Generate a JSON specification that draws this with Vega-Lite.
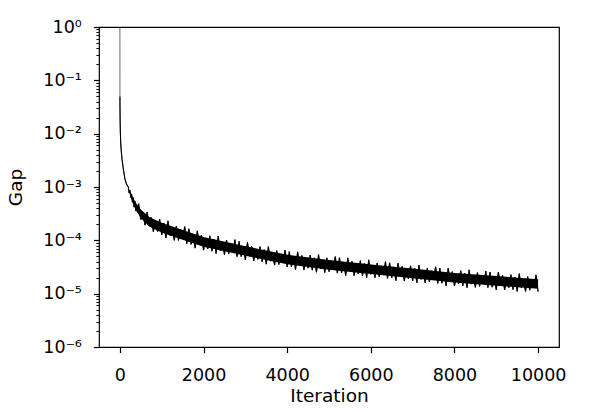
{
  "$schema": "https://vega.github.io/schema/vega-lite/v6.json",
  "width": 460,
  "height": 320,
  "autosize": {"type": "none"},
  "padding": {"left": 99, "top": 27, "right": 42, "bottom": 65},
  "background": "white",
  "config": {
    "view": {"stroke": "black", "strokeWidth": 1.2},
    "axis": {"labelFont": "DejaVu Sans", "titleFont": "DejaVu Sans", "labelColor": "black", "titleColor": "black", "tickColor": "black", "titleFontWeight": "normal", "grid": false, "domain": false}
  },
  "datasets": {
    "trace": [
      {"iter":0,"gap":1.0},{"iter":1,"gap":0.05},{"iter":2,"gap":0.03},{"iter":5,"gap":0.018},{"iter":10,"gap":0.011},{"iter":20,"gap":0.0065},{"iter":35,"gap":0.0045},{"iter":50,"gap":0.0033},{"iter":80,"gap":0.00224},{"iter":120,"gap":0.00141},{"iter":160,"gap":0.00112},{"iter":200,"gap":0.001},{"iter":220,"gap":7.76e-4},{"iter":240,"gap":8.71e-4},{"iter":260,"gap":6.31e-4},{"iter":280,"gap":7.41e-4},{"iter":300,"gap":5.13e-4},{"iter":320,"gap":6.31e-4},{"iter":340,"gap":4.17e-4},{"iter":360,"gap":5.37e-4},{"iter":380,"gap":3.55e-4},
      {"iter":450,"gap":4.75e-4},{"iter":500,"gap":2.44e-4},{"iter":550,"gap":3.28e-4},{"iter":600,"gap":1.92e-4},{"iter":650,"gap":3.39e-4},{"iter":700,"gap":1.91e-4},{"iter":750,"gap":2.69e-4},{"iter":800,"gap":1.45e-4},{"iter":850,"gap":2.17e-4},{"iter":900,"gap":1.46e-4},{"iter":950,"gap":2.50e-4},{"iter":1000,"gap":1.26e-4},
      {"iter":1050,"gap":2.11e-4},{"iter":1100,"gap":1.11e-4},{"iter":1150,"gap":2.32e-4},{"iter":1200,"gap":1.22e-4},{"iter":1250,"gap":1.68e-4},{"iter":1300,"gap":1.00e-4},{"iter":1350,"gap":1.86e-4},{"iter":1400,"gap":1.00e-4},{"iter":1450,"gap":1.59e-4},{"iter":1500,"gap":1.08e-4},{"iter":1550,"gap":1.81e-4},{"iter":1600,"gap":8.63e-5},{"iter":1650,"gap":1.65e-4},{"iter":1700,"gap":8.39e-5},{"iter":1750,"gap":1.28e-4},{"iter":1800,"gap":7.16e-5},{"iter":1850,"gap":1.51e-4},{"iter":1900,"gap":8.18e-5},{"iter":1950,"gap":1.25e-4},{"iter":2000,"gap":6.54e-5},
      {"iter":2050,"gap":1.01e-4},{"iter":2100,"gap":6.93e-5},{"iter":2150,"gap":1.22e-4},{"iter":2200,"gap":6.25e-5},{"iter":2250,"gap":1.06e-4},{"iter":2300,"gap":5.64e-5},{"iter":2350,"gap":1.20e-4},{"iter":2400,"gap":6.37e-5},{"iter":2450,"gap":8.92e-5},{"iter":2500,"gap":5.40e-5},{"iter":2550,"gap":1.01e-4},{"iter":2600,"gap":5.53e-5},{"iter":2650,"gap":8.79e-5},{"iter":2700,"gap":6.05e-5},{"iter":2750,"gap":1.03e-4},{"iter":2800,"gap":4.95e-5},{"iter":2850,"gap":9.58e-5},{"iter":2900,"gap":4.92e-5},{"iter":2950,"gap":7.58e-5},{"iter":3000,"gap":4.30e-5},
      {"iter":3050,"gap":9.16e-5},{"iter":3100,"gap":5.03e-5},{"iter":3150,"gap":7.76e-5},{"iter":3200,"gap":4.13e-5},{"iter":3250,"gap":6.35e-5},{"iter":3300,"gap":4.38e-5},{"iter":3350,"gap":7.67e-5},{"iter":3400,"gap":3.96e-5},{"iter":3450,"gap":6.72e-5},{"iter":3500,"gap":3.57e-5},{"iter":3550,"gap":7.61e-5},{"iter":3600,"gap":4.05e-5},{"iter":3650,"gap":5.67e-5},{"iter":3700,"gap":3.43e-5},{"iter":3750,"gap":6.40e-5},{"iter":3800,"gap":3.51e-5},{"iter":3850,"gap":5.60e-5},{"iter":3900,"gap":3.86e-5},{"iter":3950,"gap":6.55e-5},{"iter":4000,"gap":3.16e-5},
      {"iter":4050,"gap":6.15e-5},{"iter":4100,"gap":3.19e-5},{"iter":4150,"gap":4.95e-5},{"iter":4200,"gap":2.83e-5},{"iter":4250,"gap":6.07e-5},{"iter":4300,"gap":3.36e-5},{"iter":4350,"gap":5.21e-5},{"iter":4400,"gap":2.79e-5},{"iter":4450,"gap":4.34e-5},{"iter":4500,"gap":3.01e-5},{"iter":4550,"gap":5.30e-5},{"iter":4600,"gap":2.75e-5},{"iter":4650,"gap":4.72e-5},{"iter":4700,"gap":2.52e-5},{"iter":4750,"gap":5.41e-5},{"iter":4800,"gap":2.90e-5},{"iter":4850,"gap":4.09e-5},{"iter":4900,"gap":2.49e-5},{"iter":4950,"gap":4.69e-5},{"iter":5000,"gap":2.59e-5},
      {"iter":5050,"gap":4.16e-5},{"iter":5100,"gap":2.89e-5},{"iter":5150,"gap":4.97e-5},{"iter":5200,"gap":2.42e-5},{"iter":5250,"gap":4.73e-5},{"iter":5300,"gap":2.46e-5},{"iter":5350,"gap":3.82e-5},{"iter":5400,"gap":2.18e-5},{"iter":5450,"gap":4.70e-5},{"iter":5500,"gap":2.60e-5},{"iter":5550,"gap":4.06e-5},{"iter":5600,"gap":2.18e-5},{"iter":5650,"gap":3.39e-5},{"iter":5700,"gap":2.36e-5},{"iter":5750,"gap":4.16e-5},{"iter":5800,"gap":2.17e-5},{"iter":5850,"gap":3.71e-5},{"iter":5900,"gap":2.00e-5},{"iter":5950,"gap":4.29e-5},{"iter":6000,"gap":2.30e-5},
      {"iter":6050,"gap":3.25e-5},{"iter":6100,"gap":1.99e-5},{"iter":6150,"gap":3.75e-5},{"iter":6200,"gap":2.08e-5},{"iter":6250,"gap":3.34e-5},{"iter":6300,"gap":2.32e-5},{"iter":6350,"gap":3.98e-5},{"iter":6400,"gap":1.94e-5},{"iter":6450,"gap":3.79e-5},{"iter":6500,"gap":1.97e-5},{"iter":6550,"gap":3.06e-5},{"iter":6600,"gap":1.75e-5},{"iter":6650,"gap":3.76e-5},{"iter":6700,"gap":2.09e-5},{"iter":6750,"gap":3.25e-5},{"iter":6800,"gap":1.74e-5},{"iter":6850,"gap":2.71e-5},{"iter":6900,"gap":1.89e-5},{"iter":6950,"gap":3.34e-5},{"iter":7000,"gap":1.74e-5},
      {"iter":7050,"gap":2.98e-5},{"iter":7100,"gap":1.60e-5},{"iter":7150,"gap":3.44e-5},{"iter":7200,"gap":1.85e-5},{"iter":7250,"gap":2.61e-5},{"iter":7300,"gap":1.59e-5},{"iter":7350,"gap":3.01e-5},{"iter":7400,"gap":1.67e-5},{"iter":7450,"gap":2.68e-5},{"iter":7500,"gap":1.86e-5},{"iter":7550,"gap":3.19e-5},{"iter":7600,"gap":1.56e-5},{"iter":7650,"gap":3.03e-5},{"iter":7700,"gap":1.57e-5},{"iter":7750,"gap":2.45e-5},{"iter":7800,"gap":1.41e-5},{"iter":7850,"gap":3.02e-5},{"iter":7900,"gap":1.67e-5},{"iter":7950,"gap":2.60e-5},{"iter":8000,"gap":1.40e-5},
      {"iter":8050,"gap":2.18e-5},{"iter":8100,"gap":1.52e-5},{"iter":8150,"gap":2.70e-5},{"iter":8200,"gap":1.40e-5},{"iter":8250,"gap":2.41e-5},{"iter":8300,"gap":1.30e-5},{"iter":8350,"gap":2.80e-5},{"iter":8400,"gap":1.51e-5},{"iter":8450,"gap":2.14e-5},{"iter":8500,"gap":1.31e-5},{"iter":8550,"gap":2.48e-5},{"iter":8600,"gap":1.37e-5},{"iter":8650,"gap":2.21e-5},{"iter":8700,"gap":1.54e-5},{"iter":8750,"gap":2.65e-5},{"iter":8800,"gap":1.30e-5},{"iter":8850,"gap":2.54e-5},{"iter":8900,"gap":1.32e-5},{"iter":8950,"gap":2.05e-5},{"iter":9000,"gap":1.18e-5},
      {"iter":9050,"gap":2.55e-5},{"iter":9100,"gap":1.41e-5},{"iter":9150,"gap":2.21e-5},{"iter":9200,"gap":1.18e-5},{"iter":9250,"gap":1.85e-5},{"iter":9300,"gap":1.29e-5},{"iter":9350,"gap":2.28e-5},{"iter":9400,"gap":1.19e-5},{"iter":9450,"gap":2.05e-5},{"iter":9500,"gap":1.10e-5},{"iter":9550,"gap":2.37e-5},{"iter":9600,"gap":1.28e-5},{"iter":9650,"gap":1.81e-5},{"iter":9700,"gap":1.10e-5},{"iter":9750,"gap":2.10e-5},{"iter":9800,"gap":1.16e-5},{"iter":9850,"gap":1.87e-5},{"iter":9900,"gap":1.31e-5},{"iter":9950,"gap":2.25e-5},{"iter":10000,"gap":1.09e-5}
    ],
    "band": [
      {"iter":200,"lo":8.91e-4,"hi":9.77e-4},
      {"iter":300,"lo":5.25e-4,"hi":6.61e-4},
      {"iter":400,"lo":3.47e-4,"hi":4.79e-4},
      {"iter":500,"lo":2.63e-4,"hi":3.80e-4},
      {"iter":700,"lo":1.82e-4,"hi":2.75e-4},
      {"iter":1000,"lo":1.41e-4,"hi":2.14e-4},
      {"iter":1360,"lo":1.12e-4,"hi":1.70e-4},
      {"iter":2000,"lo":7.59e-5,"hi":1.15e-4},
      {"iter":2950,"lo":5.25e-5,"hi":7.94e-5},
      {"iter":4000,"lo":3.55e-5,"hi":5.37e-5},
      {"iter":5000,"lo":2.82e-5,"hi":4.27e-5},
      {"iter":6240,"lo":2.24e-5,"hi":3.39e-5},
      {"iter":7000,"lo":1.95e-5,"hi":2.95e-5},
      {"iter":8000,"lo":1.62e-5,"hi":2.45e-5},
      {"iter":9000,"lo":1.41e-5,"hi":2.14e-5},
      {"iter":10000,"lo":1.23e-5,"hi":1.86e-5}
    ]
  },
  "layer": [
    {
      "data": {"name": "band"},
      "mark": {"type": "area", "color": "black", "opacity": 1},
      "encoding": {
        "x": {"field": "iter", "type": "quantitative", "scale": {"domain": [-500, 10500], "nice": false, "zero": false},
              "axis": {"title": "Iteration", "values": [0, 2000, 4000, 6000, 8000, 10000], "format": "d", "tickSize": 5.6, "tickWidth": 1.2, "labelFontSize": 17.5, "labelPadding": 14, "titleFontSize": 18.5, "titlePadding": 2}},
        "y": {"field": "lo", "type": "quantitative", "scale": {"type": "log", "domain": [1e-6, 1], "nice": false},
              "axis": {"title": "Gap", "titleFontSize": 18.5, "titlePadding": 17, "labelFontSize": 17.5, "labelPadding": 12, "labelOverlap": false, "labelBaseline": "middle",
                       "values": [1e-6,2e-6,3e-6,4e-6,5e-6,6e-6,7e-6,8e-6,9e-6,1e-5,2e-5,3e-5,4e-5,5e-5,6e-5,7e-5,8e-5,9e-5,1e-4,2e-4,3e-4,4e-4,5e-4,6e-4,7e-4,8e-4,9e-4,1e-3,2e-3,3e-3,4e-3,5e-3,6e-3,7e-3,8e-3,9e-3,1e-2,2e-2,3e-2,4e-2,5e-2,6e-2,7e-2,8e-2,9e-2,0.1,0.2,0.3,0.4,0.5,0.6,0.7,0.8,0.9,1],
                       "labelExpr": "abs(log(datum.value)/LN10 - round(log(datum.value)/LN10)) < 1e-6 ? '10' + (round(log(datum.value)/LN10) < 0 ? '⁻' : '') + ['⁰','¹','²','³','⁴','⁵','⁶'][abs(round(log(datum.value)/LN10))] : ''",
                       "tickSize": {"condition": {"test": "abs(log(datum.value)/LN10 - round(log(datum.value)/LN10)) < 1e-6", "value": 5.6}, "value": 3.2},
                       "tickWidth": {"condition": {"test": "abs(log(datum.value)/LN10 - round(log(datum.value)/LN10)) < 1e-6", "value": 1.2}, "value": 0.9}}},
        "y2": {"field": "hi"}
      }
    },
    {
      "data": {"name": "trace"},
      "mark": {"type": "line", "color": "black", "strokeWidth": 0.6, "clip": true},
      "encoding": {
        "x": {"field": "iter", "type": "quantitative"},
        "y": {"field": "gap", "type": "quantitative"}
      }
    },
    {
      "data": {"name": "trace"},
      "transform": [{"filter": "datum.iter >= 1"}],
      "mark": {"type": "line", "color": "black", "strokeWidth": 1.1, "clip": true},
      "encoding": {
        "x": {"field": "iter", "type": "quantitative"},
        "y": {"field": "gap", "type": "quantitative"}
      }
    }
  ]
}
